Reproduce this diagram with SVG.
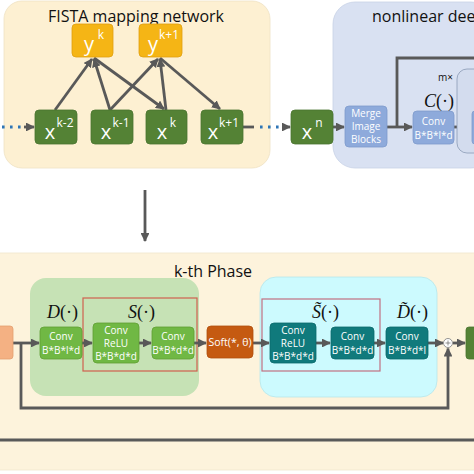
<svg xmlns="http://www.w3.org/2000/svg" width="474" height="474" viewBox="0 0 474 474">
<defs>
<marker id="ah" viewBox="0 0 10 10" refX="9" refY="5" markerWidth="3.2" markerHeight="3.2" orient="auto-start-reverse" markerUnits="strokeWidth">
<path d="M0,0 L10,5 L0,10 z" fill="#595959"/>
</marker>
<style>
.ln{stroke:#595959;stroke-width:2.8;fill:none}
.arr{stroke:#595959;stroke-width:2.8;fill:none;marker-end:url(#ah)}
.dots{stroke:#2e75b6;stroke-width:2.8;stroke-dasharray:2.6 5.4;fill:none}
.gx{fill:#548235;stroke:#4a7330;stroke-width:0.8}
.yb{fill:#f5b515;stroke:#e0a010;stroke-width:0.8}
.lb{fill:#8eaadb;stroke:#7f9bcc;stroke-width:0.8}
.lg{fill:#70b844;stroke:#5fa034;stroke-width:0.8}
.tl{fill:#107a7c;stroke:#0a6a6c;stroke-width:0.8}
.t{font-family:"Open Sans","Noto Sans",sans-serif;fill:#ffffff;text-anchor:middle}
.title{font-family:"Open Sans","Noto Sans",sans-serif;fill:#111111;font-size:16px}
.sm{font-size:10px}
.mth{font-family:"Liberation Serif","DejaVu Serif",serif;font-style:italic;fill:#111;font-size:18px}
</style>
</defs>
<rect x="0" y="0" width="474" height="474" fill="#ffffff"/>

<!-- top left panel -->
<rect x="4" y="1" width="266" height="167" rx="18" fill="#fdf0d2" stroke="#efe2c4" stroke-width="0.8"/>
<text class="title" x="136" y="22" text-anchor="middle">FISTA mapping network</text>

<!-- top right panel -->
<rect x="333" y="2" width="160" height="166" rx="22" fill="#d9e1f2" stroke="#c8d2e6" stroke-width="0.8"/>
<text class="title" x="372" y="22">nonlinear deep</text>

<!-- bottom panel -->
<rect x="-5" y="253" width="490" height="217" fill="#fdf3dc" stroke="#f0e6cc" stroke-width="0.8"/>
<text class="title" x="213" y="277" text-anchor="middle">k-th Phase</text>

<rect x="30" y="278" width="169" height="118" rx="16" fill="#c6e2b5"/>
<rect x="260" y="277" width="177" height="120" rx="16" fill="#ccfafe" stroke="#b8e6ea" stroke-width="0.8"/>
<rect x="83" y="298" width="114" height="73" fill="none" stroke="#d0604f" stroke-width="1.2"/>
<rect x="262" y="299" width="118" height="72" fill="none" stroke="#c07080" stroke-width="1.2"/>

<text class="mth" x="47" y="318">D<tspan font-style="normal">(·)</tspan></text>
<text class="mth" x="128" y="318">S<tspan font-style="normal">(·)</tspan></text>
<text class="mth" x="312" y="318">S̃<tspan font-style="normal">(·)</tspan></text>
<text class="mth" x="397" y="318">D̃<tspan font-style="normal">(·)</tspan></text>

<!-- connectors -->
<g id="connectors">
<line class="arr" x1="55" y1="110" x2="92" y2="59"/>
<line class="arr" x1="110" y1="110" x2="94" y2="59"/>
<line class="arr" x1="110" y1="110" x2="158" y2="59"/>
<line class="arr" x1="166" y1="110" x2="160" y2="59"/>
<line class="arr" x1="94" y1="58" x2="164" y2="109"/>
<line class="arr" x1="160" y1="58" x2="220" y2="109"/>
<path class="dots" d="M2,127 H22"/>
<line class="arr" x1="24" y1="127" x2="34" y2="127"/>
<line class="ln" x1="243" y1="127" x2="254" y2="127"/>
<path class="dots" d="M260,127 H281"/>
<line class="arr" x1="282" y1="127" x2="290" y2="127"/>
<line class="arr" x1="333" y1="127" x2="344" y2="127"/>
<line class="arr" x1="387" y1="127" x2="412" y2="127"/>
<path class="ln" d="M397,127 V58 H476"/>
<line class="arr" x1="454" y1="127" x2="471" y2="127"/>
<path class="ln" d="M461,127 V94 H476"/>
<line class="arr" x1="145" y1="190" x2="145" y2="241"/>
<line class="arr" x1="13" y1="343" x2="39" y2="343"/>
<line class="arr" x1="82" y1="343" x2="92" y2="343"/>
<line class="arr" x1="139" y1="343" x2="151" y2="343"/>
<line class="arr" x1="194" y1="343" x2="206" y2="343"/>
<line class="arr" x1="253" y1="343" x2="269" y2="343"/>
<line class="arr" x1="316" y1="343" x2="330" y2="343"/>
<line class="arr" x1="374" y1="343" x2="385" y2="343"/>
<line class="arr" x1="428" y1="343" x2="443" y2="343"/>
<line class="arr" x1="453" y1="343" x2="465" y2="343"/>
<path class="arr" d="M21,343 V408 H448 V348.5"/>
<line class="ln" x1="0" y1="440" x2="474" y2="440"/>
</g>

<g id="y_k"><rect class="yb" x="72" y="24" width="41" height="33" rx="4"/><text class="t" x="89" y="51" font-size="20">y</text><text class="t" x="101" y="39" font-size="12">k</text></g>
<g id="y_k1"><rect class="yb" x="139" y="24" width="43" height="33" rx="4"/><text class="t" x="153" y="51" font-size="20">y</text><text class="t" x="169" y="39" font-size="12">k+1</text></g>

<g id="x_km2"><rect class="gx" x="35" y="110" width="42" height="34" rx="4"/><text class="t" x="50" y="139" font-size="20">x</text><text class="t" x="65" y="127" font-size="12">k-2</text></g>
<g id="x_km1"><rect class="gx" x="91" y="110" width="42" height="34" rx="4"/><text class="t" x="106" y="139" font-size="20">x</text><text class="t" x="121" y="127" font-size="12">k-1</text></g>
<g id="x_k"><rect class="gx" x="146" y="110" width="41" height="34" rx="4"/><text class="t" x="162" y="139" font-size="20">x</text><text class="t" x="173" y="127" font-size="12">k</text></g>
<g id="x_k1"><rect class="gx" x="201" y="110" width="42" height="34" rx="4"/><text class="t" x="213" y="139" font-size="20">x</text><text class="t" x="229" y="127" font-size="12">k+1</text></g>
<g id="x_n"><rect class="gx" x="291" y="110" width="42" height="34" rx="4"/><text class="t" x="307" y="139" font-size="20">x</text><text class="t" x="319" y="127" font-size="12">n</text></g>

<g id="merge"><rect class="lb" x="345" y="106" width="42" height="41" rx="4"/><text class="t sm" x="366" y="117">Merge</text><text class="t sm" x="366" y="130">Image</text><text class="t sm" x="366" y="143">Blocks</text></g>
<g id="conv_c"><rect class="lb" x="413" y="111" width="41" height="33" rx="4"/><text class="t sm" x="433.5" y="125">Conv</text><text class="t sm" x="433.5" y="139">B*B*l*d</text></g>
<text class="mth" x="424" y="107">C<tspan font-style="normal">(·)</tspan></text>
<text x="438" y="81" font-family="Open Sans,sans-serif" font-size="10" fill="#111">m×</text>
<g id="inner"><rect x="457" y="69" width="40" height="84" rx="10" fill="#d3dcee" stroke="#8a9ab5" stroke-width="0.8"/><rect class="lb" x="472" y="111" width="20" height="33" rx="3"/></g>

<g id="in_box"><rect x="-5" y="326" width="18" height="33" rx="3" fill="#f4b183" stroke="#e3a070" stroke-width="0.8"/></g>
<g id="conv_d"><rect class="lg" x="40" y="327" width="42" height="32" rx="4"/><text class="t sm" x="61" y="340">Conv</text><text class="t sm" x="61" y="354">B*B*l*d</text></g>
<g id="conv_s1"><rect class="lg" x="93" y="323" width="46" height="40" rx="4"/><text class="t sm" x="116" y="334">Conv</text><text class="t sm" x="116" y="347">ReLU</text><text class="t sm" x="116" y="360">B*B*d*d</text></g>
<g id="conv_s2"><rect class="lg" x="152" y="327" width="42" height="32" rx="4"/><text class="t sm" x="173" y="340">Conv</text><text class="t sm" x="173" y="354">B*B*d*d</text></g>
<g id="soft"><rect x="207" y="326" width="46" height="32" rx="4" fill="#c55a11" stroke="#b04e0c" stroke-width="0.8"/><text class="t" x="230" y="346" font-size="10.5">Soft(*, θ)</text></g>
<g id="conv_st1"><rect class="tl" x="270" y="323" width="46" height="40" rx="4"/><text class="t sm" x="293" y="334">Conv</text><text class="t sm" x="293" y="347">ReLU</text><text class="t sm" x="293" y="360">B*B*d*d</text></g>
<g id="conv_st2"><rect class="tl" x="331" y="327" width="43" height="32" rx="4"/><text class="t sm" x="352.5" y="340">Conv</text><text class="t sm" x="352.5" y="354">B*B*d*d</text></g>
<g id="conv_dt"><rect class="tl" x="386" y="327" width="42" height="32" rx="4"/><text class="t sm" x="407" y="340">Conv</text><text class="t sm" x="407" y="354">B*B*d*l</text></g>
<g id="plus"><circle cx="448" cy="343" r="4.5" fill="#ffffff" stroke="#777" stroke-width="0.8"/><path d="M445.5,343 H450.5 M448,340.5 V345.5" stroke="#777" stroke-width="0.8"/></g>
<g id="out_box"><rect x="466" y="327" width="20" height="32" rx="3" fill="#548235" stroke="#4a7330" stroke-width="0.8"/></g>
</svg>
